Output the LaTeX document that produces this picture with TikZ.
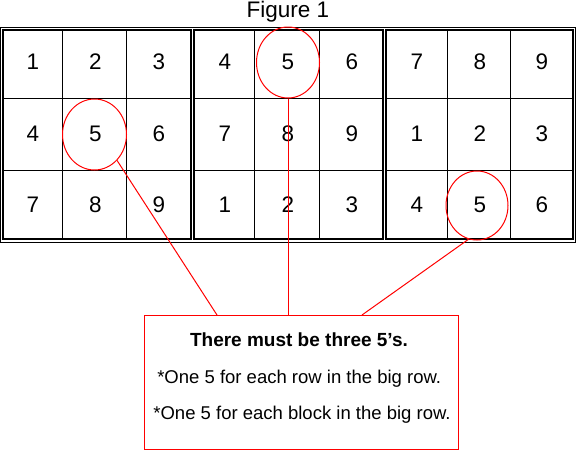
\documentclass[tikz,border=0pt]{standalone}
\usepackage{fontspec}
\setmainfont{Liberation Sans}
\usetikzlibrary{shapes.geometric}
\begin{document}
\begin{tikzpicture}[x=1pt,y=-1pt,
  digit/.style={anchor=base,inner sep=0pt,font=\fontsize{22.5}{24}\selectfont},
  blockbox/.style={draw=black,line width=2pt},
  cellline/.style={draw=black,line width=1pt},
  ring/.style={draw=red,ellipse,inner sep=0pt,line width=1pt},
  callout/.style={draw=red,line width=1pt},
  leader/.style={draw=red,line width=1pt},
  note/.style={anchor=base,inner sep=0pt,font=\fontsize{18.5}{20}\selectfont}]
\useasboundingbox (0,0) rectangle (576,450);
% title
\node[anchor=base,inner sep=0pt,font=\fontsize{22.5}{24}\selectfont] (title) at (288,17) {Figure 1};
% outer frame
\draw[line width=1pt] (0.5,27.5) rectangle (575.5,242);
% blocks
\draw[blockbox] (3,30) rectangle (191,239);
\draw[blockbox] (193.5,30) rectangle (383,239);
\draw[blockbox] (385.5,30) rectangle (572.5,239);
% cell lines block 1
\draw[cellline] (62.5,30) -- (62.5,239) (126.5,30) -- (126.5,239) (3,98.5) -- (191,98.5) (3,170.5) -- (191,170.5);
% block 2
\draw[cellline] (254.5,30) -- (254.5,239) (319.5,30) -- (319.5,239) (193.5,98.5) -- (383,98.5) (193.5,170.5) -- (383,170.5);
% block 3
\draw[cellline] (447.5,30) -- (447.5,239) (510.5,30) -- (510.5,239) (385.5,98.5) -- (572.5,98.5) (385.5,170.5) -- (572.5,170.5);
% digits block 1
\node[digit] (a11) at (33,69.5) {1};
\node[digit] (a12) at (95.5,69.5) {2};
\node[digit] (a13) at (159,69.5) {3};
\node[digit] (a21) at (33,141) {4};
\node[digit] (a22) at (95.5,141) {5};
\node[digit] (a23) at (159,141) {6};
\node[digit] (a31) at (33,212.7) {7};
\node[digit] (a32) at (95.5,212.7) {8};
\node[digit] (a33) at (159,212.7) {9};
% digits block 2
\node[digit] (b11) at (225,69.5) {4};
\node[digit] (b12) at (288,69.5) {5};
\node[digit] (b13) at (352,69.5) {6};
\node[digit] (b21) at (225,141) {7};
\node[digit] (b22) at (288,141) {8};
\node[digit] (b23) at (352,141) {9};
\node[digit] (b31) at (225,212.7) {1};
\node[digit] (b32) at (288,212.7) {2};
\node[digit] (b33) at (352,212.7) {3};
% digits block 3
\node[digit] (c11) at (417,69.5) {7};
\node[digit] (c12) at (480,69.5) {8};
\node[digit] (c13) at (542,69.5) {9};
\node[digit] (c21) at (417,141) {1};
\node[digit] (c22) at (480,141) {2};
\node[digit] (c23) at (542,141) {3};
\node[digit] (c31) at (417,212.7) {4};
\node[digit] (c32) at (480,212.7) {5};
\node[digit] (c33) at (542,212.7) {6};
% rings
\node[ring,minimum width=64pt,minimum height=71pt] (r1) at (94.5,134.5) {};
\node[ring,minimum width=63pt,minimum height=71pt] (r2) at (288,62.5) {};
\node[ring,minimum width=62pt,minimum height=69pt] (r3) at (477,205.5) {};
% note box
\node[callout,minimum width=314pt,minimum height=134pt,inner sep=0pt] (box) at (301,382) {};
\coordinate (t1) at (217,315);
\coordinate (t2) at (288.5,315);
\coordinate (t3) at (362,315);
\node[note,font=\bfseries\fontsize{19}{20}\selectfont] (n1) at (299,346.7) {There must be three 5’s.};
\node[note] (n2) at (299.2,383.3) {*One 5 for each row in the big row.};
\node[note] (n3) at (302,419) {*One 5 for each block in the big row.};
% connectors
\draw[leader] (r1.-49) -- (t1);
\draw[leader] (r2.south -| t2) -- (t2);
\draw[leader] (r3.-104) -- (t3);
\end{tikzpicture}
\end{document}
